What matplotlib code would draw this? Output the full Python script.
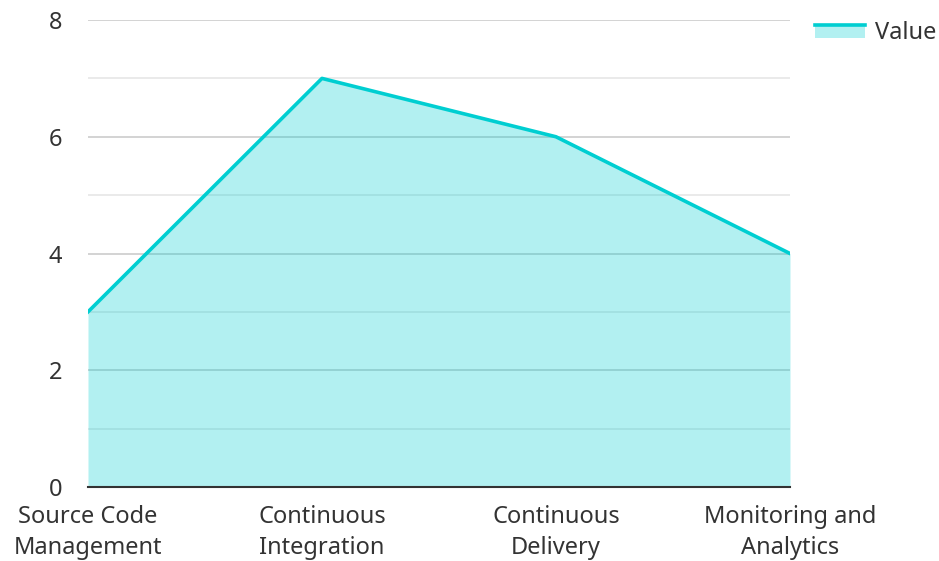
import matplotlib.pyplot as plt
from matplotlib.patches import Rectangle
from matplotlib.lines import Line2D
from matplotlib.legend_handler import HandlerBase

plt.rcParams['font.family'] = ['Noto Sans', 'DejaVu Sans']

stages = ['Source Code\nManagement', 'Continuous\nIntegration', 'Continuous\nDelivery', 'Monitoring and\nAnalytics']
values = [3, 7, 6, 4]

line_color = '#00CED1'
fill_color = '#B2F0F1'


class AreaHandler(HandlerBase):
    # swatch: filled box with the series line along its top edge
    def create_artists(self, legend, orig_handle, xdescent, ydescent, width, height, fontsize, trans):
        box = Rectangle((-xdescent, -ydescent), width, height * 0.85, facecolor=fill_color,
                        edgecolor='none', transform=trans)
        top = Line2D([-xdescent, -xdescent + width], [-ydescent + height * 0.85] * 2,
                     color=line_color, linewidth=2.6, transform=trans)
        return [box, top]


fig = plt.figure(figsize=(9.39, 5.61), dpi=100)
ax = fig.add_axes([0.0937, 0.1319, 0.7476, 0.8324])

x = list(range(len(stages)))
ax.fill_between(x, values, 0, color=line_color, alpha=0.3, linewidth=0, zorder=2)
ax.plot(x, values, color=line_color, linewidth=2.6, zorder=3)

ax.set_xlim(0, len(stages) - 1)
ax.set_ylim(0, 8)
ax.set_xticks(x)
ax.set_xticklabels(stages, linespacing=1.4)
ax.set_yticks([0, 2, 4, 6, 8])
ax.set_yticks([1, 3, 5, 7], minor=True)

ax.grid(axis='y', which='major', color='#cccccc', linewidth=1.2, zorder=1)
ax.grid(axis='y', which='minor', color='#e6e6e6', linewidth=1.2, zorder=1)
ax.set_axisbelow(True)

for side in ['top', 'right', 'left']:
    ax.spines[side].set_visible(False)
ax.spines['bottom'].set_color('#333333')
ax.spines['bottom'].set_linewidth(1.5)

ax.tick_params(axis='both', which='both', length=0, labelsize=17, labelcolor='#333333')
ax.tick_params(axis='x', pad=13)
ax.tick_params(axis='y', pad=18.5)

leg = fig.legend([object()], ['Value'], handler_map={object: AreaHandler()},
                 loc='center left', bbox_to_anchor=(0.868, 0.942), bbox_transform=fig.transFigure,
                 frameon=False, fontsize=17, handlelength=2.1, handleheight=0.6,
                 handletextpad=0.42, borderpad=0, borderaxespad=0)
for t in leg.get_texts():
    t.set_color('#333333')

fig.savefig('out.png', dpi=100)
